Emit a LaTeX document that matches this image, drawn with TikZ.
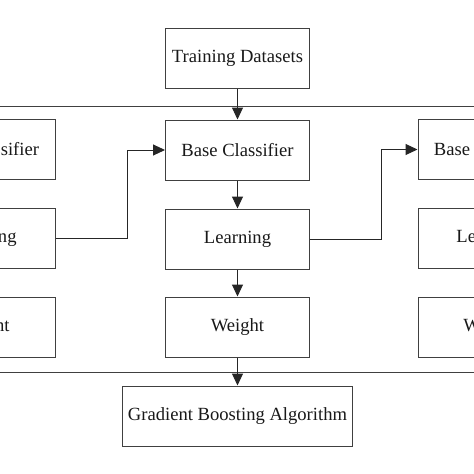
\documentclass[tikz,border=0pt]{standalone}
\usepackage{fontspec}
\setmainfont{Liberation Serif}
\usetikzlibrary{arrows.meta}
\tikzset{
  box/.style={draw=black!75, line width=1pt, minimum width=144pt, minimum height=60pt, inner sep=0pt, font=\fontsize{18.6}{22}\selectfont, text=black!90},
  arr/.style={draw=black!85, line width=1pt, -{Triangle[width=11pt,length=12pt]}},
  rule/.style={draw=black!75, line width=1pt}
}
\begin{document}
\begin{tikzpicture}[x=1pt,y=-1pt]
\useasboundingbox (0,0) rectangle (474,474);
\clip (0,0) rectangle (474,474);
\fill[white] (0,0) rectangle (474,474);
% top and bottom boxes
\node[box] (td) at (237.5,58) {Training Datasets};
\node[box, minimum width=230pt] (gb) at (237.5,416) {Gradient Boosting Algorithm};
% centre column
\node[box] (cb) at (237.5,150) {Base Classifier};
\node[box] (cl) at (237.5,239) {Learning};
\node[box] (cw) at (237.5,327) {Weight};
% left column
\node[box] (lb) at (-17,149.5) {Base Classifier};
\node[box] (ll) at (-17,238) {Learning};
\node[box] (lw) at (-17,327) {Weight};
% right column
\node[box] (rb) at (490,149.5) {Base Classifier};
\node[box] (rl) at (490,238) {Learning};
\node[box] (rw) at (490,327) {Weight};
% rules
\coordinate (t1) at (-10,106);
\coordinate (t2) at (484,106);
\coordinate (b1) at (-10,372);
\coordinate (b2) at (484,372);
\draw[rule] (t1) -- (t2);
\draw[rule] (b1) -- (b2);
% arrows
\draw[arr] (td.south) -- (cb.north);
\draw[arr] (cb.south) -- (cl.north);
\draw[arr] (cl.south) -- (cw.north);
\draw[arr] (cw.south) -- (gb.north);
\draw[arr] (ll.east) -- ++(72,0) |- (cb.west);
\draw[arr] (cl.east) -- ++(71,0) |- (rb.west);
\end{tikzpicture}
\end{document}
